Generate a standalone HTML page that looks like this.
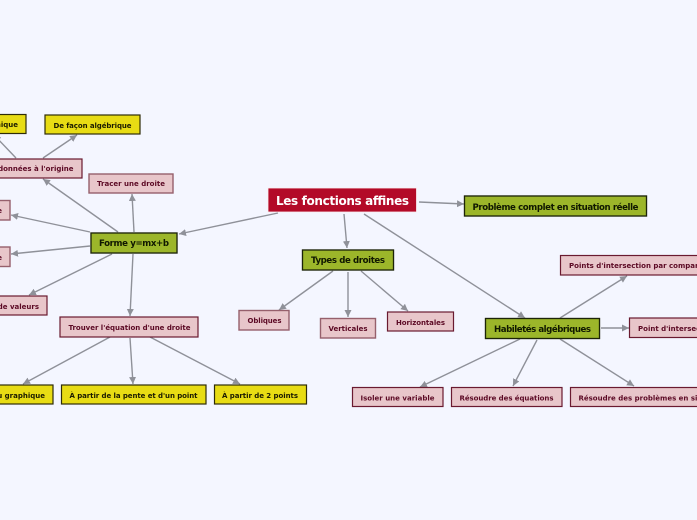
<!DOCTYPE html>
<html><head><meta charset="utf-8"><style>
html,body{margin:0;padding:0;background:#f4f6ff;overflow:hidden}
svg{display:block}
text{font-family:"DejaVu Sans",sans-serif;font-weight:bold;text-anchor:middle}
.s{font-size:7px;fill:#5c0a25}
.y{font-size:7px;fill:#1c1c00}
.g{font-size:8.6px;fill:#101800}
.p{fill:#e8c6ca;stroke:#6a1a30;stroke-width:1.2}
.pl{fill:#e8c6ca;stroke:#96606c;stroke-width:1.4}
.ye{fill:#e8dc14;stroke:#2e2c08;stroke-width:1.2}
.gr{fill:#9cb62a;stroke:#1c2408;stroke-width:1.3;filter:drop-shadow(0.7px 0.7px 0 #a8a8a8)}
line{stroke:#8f9199;stroke-width:1.4;marker-end:url(#a)}
</style></head><body>
<svg width="697" height="520" viewBox="0 0 697 520" xmlns="http://www.w3.org/2000/svg">
<defs><marker id="a" markerUnits="userSpaceOnUse" markerWidth="8" markerHeight="8" refX="7" refY="3.5" orient="auto"><path d="M0 0L7 3.5L0 7z" fill="#8f9199"/></marker></defs>
<rect width="697" height="520" fill="#f4f6ff"/>
<line x1="278" y1="213" x2="179" y2="234"/>
<line x1="344" y1="214" x2="347" y2="248"/>
<line x1="419" y1="202" x2="464" y2="204"/>
<line x1="364" y1="214" x2="525" y2="318"/>
<line x1="118" y1="232" x2="43" y2="179"/>
<line x1="134" y1="232" x2="132" y2="194"/>
<line x1="90" y1="232" x2="11" y2="215"/>
<line x1="90" y1="246" x2="11" y2="254"/>
<line x1="112" y1="254" x2="29" y2="295"/>
<line x1="133" y1="254" x2="130" y2="316"/>
<line x1="110" y1="337" x2="23" y2="384"/>
<line x1="130" y1="338" x2="133" y2="384"/>
<line x1="150" y1="337" x2="240" y2="384"/>
<line x1="43" y1="158" x2="77" y2="135"/>
<line x1="16" y1="158" x2="-6" y2="135"/>
<line x1="333" y1="271" x2="279" y2="310"/>
<line x1="348" y1="272" x2="348" y2="317"/>
<line x1="361" y1="271" x2="408" y2="311"/>
<line x1="560" y1="318" x2="627" y2="276"/>
<line x1="601" y1="328" x2="629" y2="328"/>
<line x1="520" y1="339" x2="420" y2="387"/>
<line x1="537" y1="340" x2="513" y2="386"/>
<line x1="560" y1="339" x2="634" y2="386"/>

<rect x="268" y="188" width="148.500" height="24" fill="#b30a28" stroke="#fbeef0" stroke-width="0.8"/>
<text x="342.500" y="205" font-size="12" fill="#fff" style="fill:#fff" textLength="133">Les fonctions affines</text>

<rect x="91" y="233" width="86" height="20" class="gr"/>
<text x="134" y="246" class="g" textLength="70">Forme y=mx+b</text>
<rect x="302.500" y="250" width="91" height="20" class="gr"/>
<text x="348" y="263" class="g" textLength="74">Types de droites</text>
<rect x="464.500" y="196" width="182" height="20" class="gr"/>
<text x="555.500" y="210" class="g" textLength="166">Problème complet en situation réelle</text>
<rect x="485.500" y="318.500" width="114" height="20" class="gr"/>
<text x="542.500" y="332" class="g" textLength="97">Habiletés algébriques</text>

<rect x="-60" y="114.500" width="86" height="19" class="ye"/>
<text x="18" y="127" class="y" style="text-anchor:end">De façon graphique</text>
<rect x="45" y="115" width="95" height="19" class="ye"/>
<text x="92.500" y="128" class="y" textLength="78">De façon algébrique</text>
<rect x="-60" y="385" width="113" height="19" class="ye"/>
<text x="45" y="398" class="y" style="text-anchor:end">À partir du graphique</text>
<rect x="61.500" y="385" width="144.500" height="19" class="ye"/>
<text x="133.500" y="398" class="y" textLength="128">À partir de la pente et d'un point</text>
<rect x="214.500" y="385" width="92" height="19" class="ye"/>
<text x="260" y="398" class="y" textLength="76">À partir de 2 points</text>

<rect x="-60" y="159" width="142" height="19" class="p"/>
<text x="73.500" y="171" class="s" style="text-anchor:end">Coordonnées à l'origine</text>
<rect x="89" y="174" width="84" height="19" class="pl"/>
<text x="131" y="186" class="s" textLength="68">Tracer une droite</text>
<rect x="-60" y="200.500" width="70" height="19.500" class="pl"/>
<text x="2" y="213" class="s" style="text-anchor:end">Pente</text>
<rect x="-60" y="247" width="70" height="19.500" class="pl"/>
<text x="2" y="260" class="s" style="text-anchor:end">Abscisse</text>
<rect x="-60" y="296" width="107" height="19" class="p"/>
<text x="39" y="309" class="s" style="text-anchor:end">Table de valeurs</text>
<rect x="60" y="317" width="138" height="20" class="p"/>
<text x="129.500" y="330" class="s" textLength="122">Trouver l'équation d'une droite</text>
<rect x="239" y="310.500" width="50" height="19.500" class="pl"/>
<text x="264.500" y="323" class="s" textLength="34">Obliques</text>
<rect x="320.500" y="318.500" width="55" height="19.500" class="pl"/>
<text x="348" y="331" class="s" textLength="39">Verticales</text>
<rect x="387.500" y="312" width="66" height="19" class="p"/>
<text x="420.500" y="325" class="s" textLength="49">Horizontales</text>
<rect x="560.500" y="255.500" width="200" height="19.500" class="p"/>
<text x="569" y="268" class="s" style="text-anchor:start">Points d'intersection par comparaison</text>
<rect x="629.500" y="318" width="120" height="19.500" class="p"/>
<text x="638" y="331" class="s" style="text-anchor:start">Point d'intersection</text>
<rect x="352.500" y="387.500" width="90.500" height="19" class="p"/>
<text x="397.500" y="400.500" class="s" textLength="74">Isoler une variable</text>
<rect x="451.500" y="387.500" width="110.500" height="19" class="p"/>
<text x="506.500" y="400.500" class="s" textLength="94">Résoudre des équations</text>
<rect x="570.500" y="387.500" width="200" height="19" class="p"/>
<text x="578.500" y="400.500" class="s" style="text-anchor:start">Résoudre des problèmes en situation</text>
</svg>
</body></html>
